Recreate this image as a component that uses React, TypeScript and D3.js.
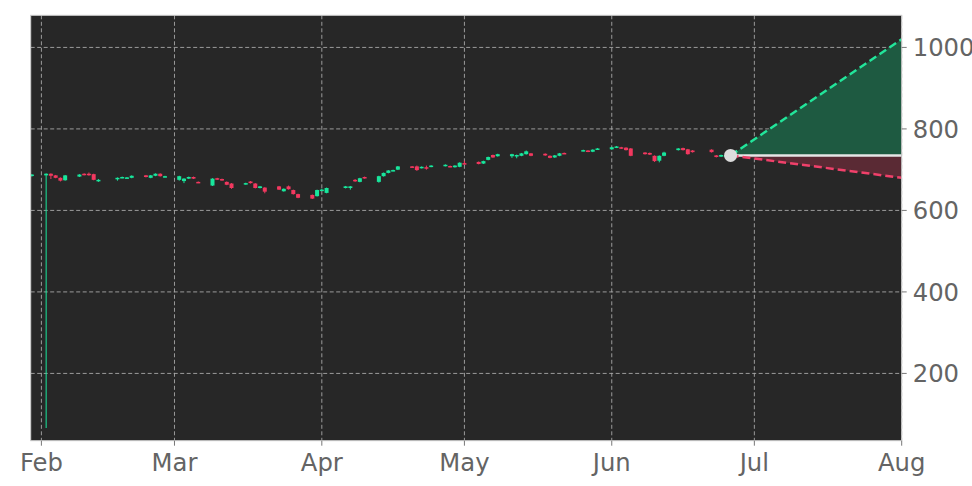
import React from "react";
import * as d3 from "d3";

const dates = [
  "2026-01-30","2026-02-02","2026-02-03","2026-02-04","2026-02-05","2026-02-06",
  "2026-02-09","2026-02-10","2026-02-11","2026-02-12","2026-02-13",
  "2026-02-17","2026-02-18","2026-02-19","2026-02-20",
  "2026-02-23","2026-02-24","2026-02-25","2026-02-26","2026-02-27",
  "2026-03-02","2026-03-03","2026-03-04","2026-03-05","2026-03-06",
  "2026-03-09","2026-03-10","2026-03-11","2026-03-12","2026-03-13",
  "2026-03-16","2026-03-17","2026-03-18","2026-03-19","2026-03-20",
  "2026-03-23","2026-03-24","2026-03-25","2026-03-26","2026-03-27",
  "2026-03-30","2026-03-31","2026-04-01","2026-04-02",
  "2026-04-06","2026-04-07","2026-04-08","2026-04-09","2026-04-10",
  "2026-04-13","2026-04-14","2026-04-15","2026-04-16","2026-04-17",
  "2026-04-20","2026-04-21","2026-04-22","2026-04-23","2026-04-24",
  "2026-04-27","2026-04-28","2026-04-29","2026-04-30","2026-05-01",
  "2026-05-04","2026-05-05","2026-05-06","2026-05-07","2026-05-08",
  "2026-05-11","2026-05-12","2026-05-13","2026-05-14","2026-05-15",
  "2026-05-18","2026-05-19","2026-05-20","2026-05-21","2026-05-22",
  "2026-05-26","2026-05-27","2026-05-28","2026-05-29",
  "2026-06-01","2026-06-02","2026-06-03","2026-06-04","2026-06-05",
  "2026-06-08","2026-06-09","2026-06-10","2026-06-11","2026-06-12",
  "2026-06-15","2026-06-16","2026-06-17","2026-06-18",
  "2026-06-22","2026-06-23","2026-06-24","2026-06-25","2026-06-26",
];

const opens = [
  685,686,690,686,680,674,
  683,690,690,689,673,
  677,680,680,680,
  686,680,685,690,682,
  675,672,678,682,670,
  661,679,677,670,666,
  664,671,666,655,656,
  659,647,659,650,640,
  638,635,650,643,
  655,655,675,670,682,
  670,684,692,697,700,
  708,708,704,706,707,
  709,709,706,707,716,
  719,715,724,736,733,
  733,734,734,738,740,
  739,734,730,734,741,
  746,747,744,750,
  750,754,755,754,752,
  742,741,734,722,734,
  748,753,750,747,
  749,735,732,734,735,
];

const highs = [
  689,691,691,687,681,687,
  689,691,693,690,677,
  681,683,682,686,
  687,687,691,691,685,
  685,679,683,683,671,
  679,680,678,671,667,
  668,672,667,660,657,
  660,654,661,651,641,
  639,651,653,656,
  660,660,677,680,683,
  685,693,699,700,709,
  709,710,708,710,711,
  713,710,711,718,722,
  720,722,732,737,739,
  739,737,741,747,741,
  740,735,736,741,742,
  749,748,750,753,
  756,758,756,755,753,
  743,742,735,735,744,
  753,754,751,748,
  750,736,737,737,737,
];

const lows = [
  683,66,677,679,671,673,
  682,686,685,674,670,
  673,679,679,679,
  681,679,684,683,681,
  673,667,677,677,667,
  660,675,673,662,653,
  663,666,654,654,642,
  650,646,651,639,630,
  628,634,648,642,
  654,651,670,669,678,
  668,683,691,696,699,
  705,697,703,700,706,
  708,706,705,706,713,
  713,714,723,729,732,
  729,728,733,737,733,
  734,728,729,733,739,
  745,743,743,749,
  749,753,751,747,733,
  737,736,719,718,733,
  747,747,737,742,
  742,730,731,733,733,
];

const closes = [
  688,690,685,680,673,686,
  688,688,687,675,675,
  680,682,681,685,
  682,686,690,684,684,
  684,678,682,678,668,
  678,676,674,663,655,
  667,667,655,659,646,
  651,653,652,640,631,
  629,650,651,655,
  659,659,673,679,679,
  684,692,698,699,708,
  706,699,707,705,710,
  712,707,710,717,714,
  714,721,731,730,738,
  738,736,740,745,734,
  735,729,735,740,740,
  748,744,749,752,
  755,757,752,748,734,
  738,737,721,734,742,
  752,748,738,743,
  743,731,736,735,734,
];

const forecastDates = ["2026-06-26", "2026-08-01"];
const forecastUpper = [735, 1020];
const forecastMid = [735, 735];
const forecastLower = [735, 680];

const yTicks = [200, 400, 600, 800, 1000];
const monthTicks = ["2026-02-01","2026-03-01","2026-04-01","2026-05-01","2026-06-01","2026-07-01","2026-08-01"];
const monthLabels = ["Feb","Mar","Apr","May","Jun","Jul","Aug"];

const W = 972;
const H = 486;
const left = 30.7;
const right = 901.7;
const top = 15.3;
const bottom = 440.7;

const GREEN = "#18e69c";
const RED = "#f2385f";

export default function App() {
  const parse = d3.utcParse("%Y-%m-%d");
  const feb1 = parse("2026-02-01") as Date;
  const x = d3
    .scaleUtc()
    .domain([d3.utcHour.offset(feb1, -53.5), parse("2026-08-01") as Date])
    .range([left, right]);
  const y = d3.scaleLinear().domain([34.9, 1078.8]).range([bottom, top]);

  const candles = dates.map((d, i) => ({
    t: parse(d) as Date,
    o: opens[i],
    h: highs[i],
    l: lows[i],
    c: closes[i],
  }));

  const fc = forecastDates.map((d, i) => ({
    t: parse(d) as Date,
    u: forecastUpper[i],
    m: forecastMid[i],
    l: forecastLower[i],
  }));

  const areaUp = d3
    .area<any>()
    .x((d) => x(d.t))
    .y0((d) => y(d.m))
    .y1((d) => y(d.u));
  const areaDown = d3
    .area<any>()
    .x((d) => x(d.t))
    .y0((d) => y(d.m))
    .y1((d) => y(d.l));
  const lineU = d3.line<any>().x((d) => x(d.t)).y((d) => y(d.u));
  const lineM = d3.line<any>().x((d) => x(d.t)).y((d) => y(d.m));
  const lineL = d3.line<any>().x((d) => x(d.t)).y((d) => y(d.l));

  const bw = 4;
  const last = fc[0];

  return (
    <svg
      width={W}
      height={H}
      style={{ position: "absolute", left: 0, top: 0, background: "#ffffff" }}
      fontFamily="DejaVu Sans"
    >
      <defs>
        <clipPath id="plot">
          <rect x={left} y={top} width={right - left} height={bottom - top} />
        </clipPath>
      </defs>
      <rect x={left} y={top} width={right - left} height={bottom - top} fill="#272727" />
      {yTicks.map((v) => (
        <line
          key={"gy" + v}
          x1={left}
          x2={right}
          y1={y(v)}
          y2={y(v)}
          stroke="#a8a8a8"
          strokeWidth={0.9}
          strokeDasharray="4,2.5"
        />
      ))}
      {monthTicks.map((m) => {
        const xv = x(parse(m) as Date);
        return (
          <line
            key={"gx" + m}
            x1={xv}
            x2={xv}
            y1={top}
            y2={bottom}
            stroke="#a8a8a8"
            strokeWidth={0.9}
            strokeDasharray="4,2.5"
          />
        );
      })}
      <g clipPath="url(#plot)">
        <path d={areaUp(fc) || ""} fill="#1e5a41" />
        <path d={areaDown(fc) || ""} fill="#5a2a34" />
        <path d={lineM(fc) || ""} stroke="#e6e6e6" strokeWidth={2.5} fill="none" />
        <path d={lineU(fc) || ""} stroke="#22e59a" strokeWidth={2.5} strokeDasharray="8,4" fill="none" />
        <path d={lineL(fc) || ""} stroke="#f0406a" strokeWidth={2.5} strokeDasharray="8,4" fill="none" />
        {candles.map((c, i) => {
          const up = c.c >= c.o;
          const col = up ? GREEN : RED;
          const cx = x(c.t);
          const yTop = y(Math.max(c.o, c.c));
          const yBot = y(Math.min(c.o, c.c));
          return (
            <g key={i}>
              <line x1={cx} x2={cx} y1={y(c.h)} y2={y(c.l)} stroke={col} strokeWidth={1} />
              <rect x={cx - bw / 2} y={yTop} width={bw} height={Math.max(1.5, yBot - yTop)} fill={col} />
            </g>
          );
        })}
        <circle cx={x(last.t)} cy={y(last.m)} r={6.5} fill="#dcdcdc" />
      </g>
      <rect
        x={left}
        y={top}
        width={right - left}
        height={bottom - top}
        fill="none"
        stroke="#cfcfcf"
        strokeWidth={1}
      />
      {yTicks.map((v) => (
        <g key={"ty" + v}>
          <line x1={right} x2={right + 5} y1={y(v)} y2={y(v)} stroke="#777" strokeWidth={1} />
          <text x={right + 11} y={y(v)} dy="0.36em" fontSize={24.3} fill="#646464">
            {v}
          </text>
        </g>
      ))}
      {monthTicks.map((m, i) => {
        const xv = x(parse(m) as Date);
        return (
          <g key={"tx" + m}>
            <line x1={xv} x2={xv} y1={bottom} y2={bottom + 5} stroke="#777" strokeWidth={1} />
            <text x={xv} y={471} textAnchor="middle" fontSize={24.3} fill="#646464">
              {monthLabels[i]}
            </text>
          </g>
        );
      })}
    </svg>
  );
}
